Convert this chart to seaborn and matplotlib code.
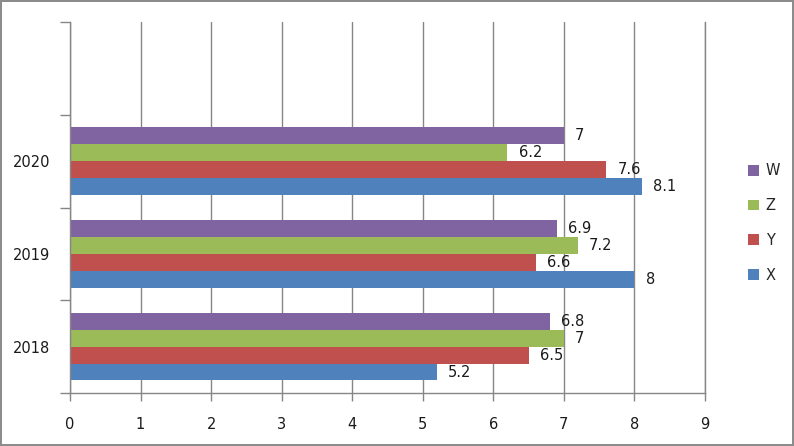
import pandas as pd
import seaborn as sns
import matplotlib.pyplot as plt

years = ["2018", "2019", "2020"]
series = ["W", "Z", "Y", "X"]
w_vals = [6.8, 6.9, 7.0]
z_vals = [7.0, 7.2, 6.2]
y_vals = [6.5, 6.6, 7.6]
x_vals = [5.2, 8.0, 8.1]
x_ticks = [0, 1, 2, 3, 4, 5, 6, 7, 8, 9]

colors = {"W": "#8064A2", "Z": "#9BBB59", "Y": "#C0504D", "X": "#4F81BD"}

rows = []
for name, vals in zip(series, [w_vals, z_vals, y_vals, x_vals]):
    for yr, v in zip(years, vals):
        rows.append({"year": yr, "series": name, "value": v})
df = pd.DataFrame(rows)

sns.set_style("white")
plt.rcParams["font.family"] = ["DejaVu Sans"]

fig = plt.figure(figsize=(7.94, 4.46), dpi=100, edgecolor="#8c8c8c", linewidth=1.5)
ax = fig.add_axes([70 / 794, 1 - 393 / 446, 635 / 794, 371 / 446])

order = ["", "2020", "2019", "2018"]
sns.barplot(data=df, y="year", x="value", hue="series", order=order,
            hue_order=series, palette=colors, orient="h", width=0.73,
            gap=0, ax=ax, saturation=1, linewidth=0)

for cont in ax.containers:
    ax.bar_label(cont, labels=[f"{v:g}" for v in cont.datavalues],
                 padding=8, fontsize=10.5, color="#1a1a1a")

ax.set_xlim(0, 9)
ax.set_ylim(3.5, -0.5)
ax.set_xticks(x_ticks)
ax.set_xticklabels([str(t) for t in x_ticks], fontsize=10.5, color="#1a1a1a")
ax.set_yticks([-0.5, 0.5, 1.5, 2.5, 3.5])
ax.set_yticklabels([])
ax.set_yticks([1, 2, 3], minor=True)
ax.set_yticklabels(order[1:], minor=True, fontsize=10.5, color="#1a1a1a")
ax.tick_params(axis="y", which="major", left=True, length=7, color="#868686", width=1)
ax.tick_params(axis="y", which="minor", left=False, length=0, pad=14)
ax.tick_params(axis="x", bottom=True, length=6, color="#868686", width=1, pad=11)
ax.set_xlabel("")
ax.set_ylabel("")
ax.grid(axis="x", color="#868686", linewidth=1)
ax.set_axisbelow(True)
ax.spines["top"].set_visible(False)
for s in ["left", "bottom", "right"]:
    ax.spines[s].set_color("#868686")
    ax.spines[s].set_linewidth(1)

handles, labels = ax.get_legend_handles_labels()
ax.legend(handles, labels, loc="center left", bbox_to_anchor=(0.925, 0.5),
          bbox_transform=fig.transFigure, frameon=False, fontsize=10.5,
          handlelength=0.75, handleheight=0.75, handletextpad=0.5,
          labelspacing=1.35)

fig.savefig("out.png", dpi=100)
